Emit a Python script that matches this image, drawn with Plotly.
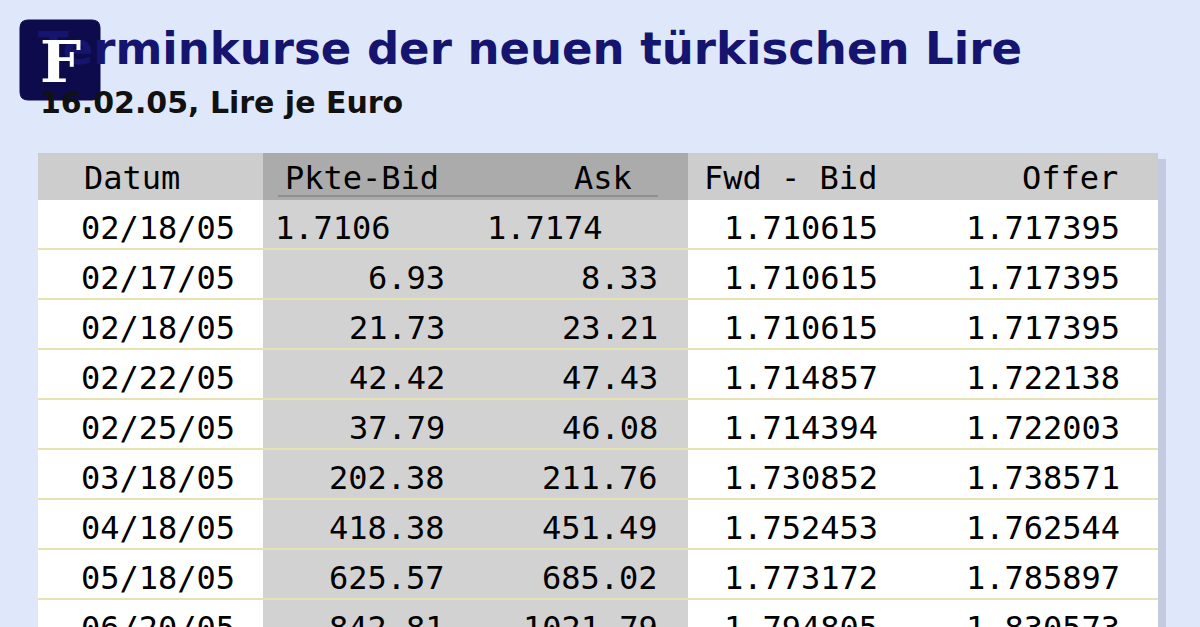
import plotly.graph_objects as go

title = "Terminkurse der neuen türkischen Lire"
subtitle = "16.02.05, Lire je Euro"
headers = ["Datum", "Pkte-Bid", "Ask", "Fwd - Bid", "Offer"]
datum = ["02/18/05", "02/17/05", "02/18/05", "02/22/05", "02/25/05", "03/18/05", "04/18/05", "05/18/05", "06/20/05"]
pkte_bid = ["1.7106", "6.93", "21.73", "42.42", "37.79", "202.38", "418.38", "625.57", "842.81"]
ask = ["1.7174", "8.33", "23.21", "47.43", "46.08", "211.76", "451.49", "685.02", "1021.79"]
fwd_bid = ["1.710615", "1.710615", "1.710615", "1.714857", "1.714394", "1.730852", "1.752453", "1.773172", "1.794805"]
offer = ["1.717395", "1.717395", "1.717395", "1.722138", "1.722003", "1.738571", "1.762544", "1.785897", "1.830573"]

cols = [datum, pkte_bid, ask, fwd_bid, offer]
col_edges = [38, 263, 475, 688, 900, 1158]
right_x = [237, 447, 660, 880, 1122]
head_x = [(82, "left"), (283, "left"), (634, "right"), (702, "left"), (1120, "right")]
top, head_h, row_h = 153, 47, 50

mono = "DejaVu Sans Mono"
fig = go.Figure()
shapes = []
ann = []

# table body
body_bottom = top + head_h + row_h * len(datum)
shapes.append(dict(type="rect", x0=1158, x1=1166, y0=top + 6, y1=body_bottom, fillcolor="#c4cbe0", line_width=0, layer="below"))
shapes.append(dict(type="rect", x0=col_edges[0], x1=col_edges[-1], y0=top, y1=body_bottom, fillcolor="white", line_width=0, layer="below"))
shapes.append(dict(type="rect", x0=col_edges[1], x1=col_edges[3], y0=top + head_h, y1=body_bottom, fillcolor="#d2d2d2", line_width=0, layer="below"))
shapes.append(dict(type="rect", x0=col_edges[0], x1=col_edges[-1], y0=top, y1=top + head_h, fillcolor="#cdcdcd", line_width=0, layer="below"))
shapes.append(dict(type="rect", x0=col_edges[1], x1=col_edges[3], y0=top, y1=top + head_h, fillcolor="#ababab", line_width=0, layer="below"))
shapes.append(dict(type="line", x0=col_edges[1] + 15, x1=col_edges[3] - 30, y0=top + head_h - 4, y1=top + head_h - 4, line=dict(color="#8f8f8f", width=2)))
for i in range(len(datum)):
    y = top + head_h + row_h * (i + 1)
    shapes.append(dict(type="line", x0=col_edges[0], x1=col_edges[-1], y0=y - 1, y1=y - 1, line=dict(color="#e6e2b4", width=2), layer="below"))

for (hx, al), h in zip(head_x, headers):
    ann.append(dict(x=hx, y=top + head_h / 2 + 1, text=h, xanchor=al, showarrow=False, font=dict(family=mono, size=32, color="black")))

for r in range(len(datum)):
    yc = top + head_h + row_h * r + row_h / 2 + 3
    for c, col in enumerate(cols):
        if r == 0 and c in (1, 2):
            ann.append(dict(x=col_edges[c] + 10, y=yc, text=col[r], xanchor="left", showarrow=False, font=dict(family=mono, size=32, color="black")))
        else:
            ann.append(dict(x=right_x[c], y=yc, text=col[r], xanchor="right", showarrow=False, font=dict(family=mono, size=32, color="black")))

# titles
ann.append(dict(x=36, y=48, text=title, xanchor="left", showarrow=False, font=dict(family="DejaVu Sans", size=45, color="#15146e", weight="bold")))
ann.append(dict(x=38, y=102, text=subtitle, xanchor="left", showarrow=False, font=dict(family="DejaVu Sans", size=30, color="#111111", weight="bold")))

# logo
shapes.append(dict(type="path", path="M 28,20 L 92,20 Q 100,20 100,28 L 100,92 Q 100,100 92,100 L 28,100 Q 20,100 20,92 L 20,28 Q 20,20 28,20 Z",
                   fillcolor="#0e0b4c", line=dict(color="#0e0b4c", width=1), layer="above"))
ann.append(dict(x=60, y=62, text="F", showarrow=False, font=dict(family="DejaVu Serif", size=58, color="white", weight="bold")))

# figure a bit taller than the window so the cut-off last row still renders
fig.update_layout(
    width=1200, height=660, margin=dict(l=0, r=0, t=0, b=0),
    paper_bgcolor="#dfe8fb", plot_bgcolor="#dfe8fb",
    xaxis=dict(range=[0, 1200], visible=False, fixedrange=True),
    yaxis=dict(range=[660, 0], visible=False, fixedrange=True),
    shapes=shapes, annotations=ann, showlegend=False,
)
fig.write_html("out.html", config={"displayModeBar": False},
               post_script="document.body.style.margin='0';document.body.style.overflow='hidden';document.body.style.background='#dfe8fb';")
